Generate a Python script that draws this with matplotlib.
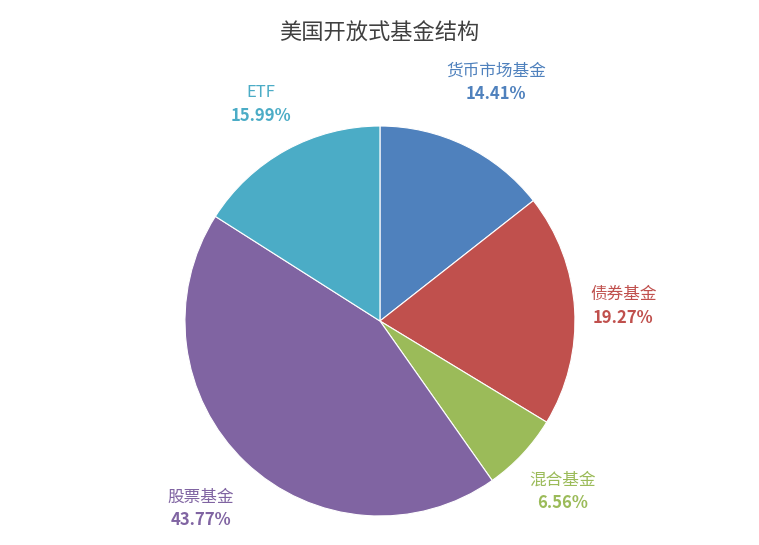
import matplotlib
matplotlib.use("Agg")
import matplotlib.pyplot as plt
import numpy as np

plt.rcParams['font.family'] = ['Noto Sans CJK SC', 'DejaVu Sans']

categories = ['货币市场基金', '债券基金', '混合基金', '股票基金', 'ETF']
values = [14.41, 19.27, 6.56, 43.77, 15.99]
colors = ['#4F81BD', '#C0504D', '#9BBB59', '#8064A2', '#4BACC6']
label_dist = [1.36, 1.25, 1.28, 1.33, 1.27]

fig = plt.figure(figsize=(7.59, 5.45), dpi=100)
ax = fig.add_axes([0.2437, 0.0532, 0.5138, 0.7156])
wedges, _ = ax.pie(values, colors=colors, startangle=90, counterclock=False,
                   wedgeprops=dict(edgecolor='white', linewidth=0.8))
ax.set_xlim(-1, 1); ax.set_ylim(-1, 1)
ax.set_aspect('equal')
for w, c, v, col, d in zip(wedges, categories, values, colors, label_dist):
    a = np.deg2rad((w.theta1 + w.theta2) / 2)
    x, y = d * np.cos(a), d * np.sin(a)
    ax.text(x, y + 0.06, c, color=col, fontsize=12, ha='center', va='center', clip_on=False)
    ax.text(x, y - 0.06, f'{v:.2f}%', color=col, fontsize=12, fontweight='bold',
            ha='center', va='center', clip_on=False)
fig.text(0.5, 1 - 33 / 545, '美国开放式基金结构', ha='center', va='center',
         fontsize=16, color='#404040')
fig.savefig('out.png', dpi=100)
